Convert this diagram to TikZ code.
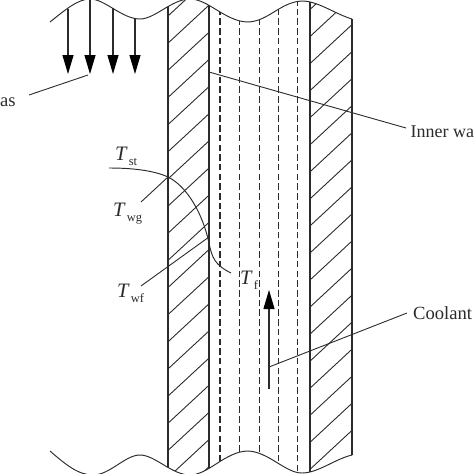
\documentclass[tikz,border=0pt]{standalone}
\usepackage{fontspec}
\setmainfont{Liberation Serif}
\usetikzlibrary{arrows.meta}
\definecolor{ink}{HTML}{2B2B2B}
\tikzset{
  wall/.style={draw=ink,line width=1.1pt},
  hatchline/.style={draw=ink,line width=0.9pt},
  dashline/.style={draw=ink,line width=0.9pt,dash pattern=on 6.5pt off 3.2pt},
  wave/.style={draw=ink,line width=0.95pt},
  leader/.style={draw=ink,line width=0.9pt},
  flow/.style={draw=ink,line width=1.1pt,-{Triangle[length=19pt,width=11pt,color=black]}},
  lab/.style={inner sep=0pt,anchor=base west,font=\fontsize{18.6}{20}\selectfont,text=ink},
  tlab/.style={inner sep=0pt,anchor=base west,font=\fontsize{20.5}{22}\selectfont,text=ink}
}
\newcommand{\tsym}[1]{\textit{T}\kern1pt\raisebox{-5pt}{\fontsize{12.5}{13}\selectfont #1}}
\begin{document}
\begin{tikzpicture}[x=1pt,y=-1pt]
\useasboundingbox (0,0) rectangle (474,474);
\def\topwave{(50,22) .. controls (65,10) and (78,-1) .. (90,-1) .. controls (105,-1) and (122,19) .. (140,19) .. controls (155,19) and (172,-1) .. (190,-1) .. controls (208,-1) and (225,21) .. (247,22) .. controls (268,22) and (280,2) .. (302,1) .. controls (318,1) and (335,14) .. (352,19)}
\def\botwave{(50,451) .. controls (65,464) and (78,475) .. (93,475) .. controls (110,475) and (125,455) .. (140,455) .. controls (155,455) and (172,475) .. (190,475) .. controls (208,475) and (225,452) .. (247,451) .. controls (268,451) and (285,473) .. (302,473) .. controls (318,473) and (335,459) .. (352,455)}
% walls, channel lines and hatching, bounded by the two break lines
\begin{scope}
  \clip (50,-5) -- (50,22) .. controls (65,10) and (78,-1) .. (90,-1) .. controls (105,-1) and (122,19) .. (140,19) .. controls (155,19) and (172,-1) .. (190,-1) .. controls (208,-1) and (225,21) .. (247,22) .. controls (268,22) and (280,2) .. (302,1) .. controls (318,1) and (335,14) .. (352,19) -- (354,19) -- (354,455) -- (352,455) .. controls (335,459) and (318,473) .. (302,473) .. controls (285,473) and (268,451) .. (247,451) .. controls (225,452) and (208,475) .. (190,475) .. controls (172,475) and (155,455) .. (140,455) .. controls (125,455) and (110,475) .. (93,475) .. controls (78,475) and (65,464) .. (50,451) -- cycle;
  \foreach \k in {0,...,18} {
    \draw[hatchline] (168,16+27.15*\k) -- (209,16+27.15*\k-38);
  }
  \foreach \k in {0,...,18} {
    \draw[hatchline] (310,9.5+27.05*\k) -- (352,9.5+27.05*\k-39);
  }
  \foreach \x in {168,209,310,352} {
    \draw[wall] (\x,-5) -- (\x,480);
  }
  \draw[dashline,line width=1.3pt] (220,-1) -- (220,480);
  \foreach \x in {239,259,278,297} {
    \draw[dashline] (\x,-1) -- (\x,480);
  }
\end{scope}
\draw[wave] \topwave;
\draw[wave] \botwave;
% hot gas arrows
\foreach \n/\x/\y in {a/68/9,b/90/0,c/113/8,d/135/18} {
  \coordinate (g\n s) at (\x,\y);
  \coordinate (g\n e) at (\x,74);
  \draw[flow] (g\n s) -- (g\n e);
}
% labels
\node[lab] (gas) at (0,106) {as};
\node[lab,font=\fontsize{18}{20}\selectfont] (inner) at (410.5,137) {Inner wa};
\node[lab] (coolant) at (413,319) {Coolant};
\node[tlab] (tst) at (115,160) {\tsym{st}};
\node[tlab] (twg) at (113,216) {\tsym{wg}};
\node[tlab] (twf) at (117,297) {\tsym{wf}};
\node[tlab] (tf) at (240,284) {\tsym{f}};
% temperature profile
\draw[wave] (109,168) .. controls (135,168) and (155,171) .. (168,177) .. controls (188,187) and (203,215) .. (209,243) .. controls (212,258) and (215,265) .. (231,273);
% leaders
\coordinate (gasA) at (88,75);
\coordinate (gasB) at (29,95);
\draw[leader] (gasA) -- (gasB);
\coordinate (innerA) at (209,72);
\coordinate (innerB) at (406,128);
\draw[leader] (innerA) -- (innerB);
\coordinate (coolA) at (269,367);
\coordinate (coolB) at (407,313);
\draw[leader] (coolA) -- (coolB);
\coordinate (wgA) at (141,202);
\coordinate (wgB) at (168,177);
\draw[leader] (wgA) -- (wgB);
\coordinate (wfA) at (141,286);
\coordinate (wfB) at (209,237);
\draw[leader] (wfA) -- (wfB);
% coolant arrow
\coordinate (cfS) at (269,389);
\coordinate (cfE) at (269,290);
\draw[flow] (cfS) -- (cfE);
\end{tikzpicture}
\end{document}
